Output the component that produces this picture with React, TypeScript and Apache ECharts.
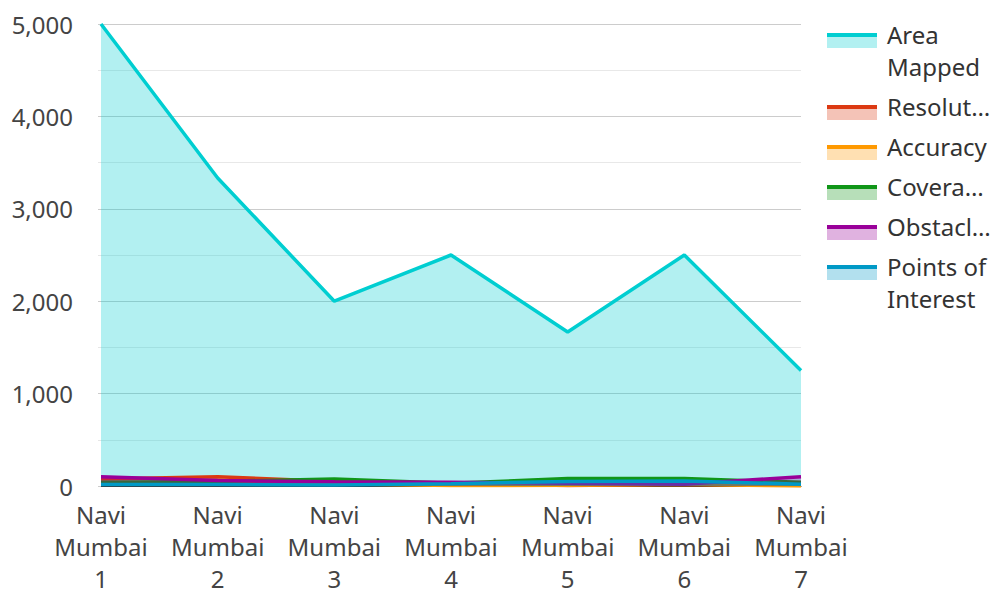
import React, { useEffect, useRef } from "react";
import * as echarts from "echarts";

const categories = ["Navi Mumbai 1", "Navi Mumbai 2", "Navi Mumbai 3", "Navi Mumbai 4", "Navi Mumbai 5", "Navi Mumbai 6", "Navi Mumbai 7"];
const seriesNames = ["Area Mapped", "Resolution", "Accuracy", "Coverage", "Obstacles", "Points of Interest"];
const legendLabels = ["Area\nMapped", "Resolution", "Accuracy", "Coverage", "Obstacles", "Points of\nInterest"];
const colors = ["#00ced1", "#dc3912", "#ff9900", "#109618", "#990099", "#0099c6"];
const areaMapped = [5000, 3333, 2000, 2500, 1667, 2500, 1250];
const resolution = [75, 100, 50, 30, 5, 20, 10];
const accuracy = [20, 30, 25, 5, 8, 20, 0];
const coverage = [40, 50, 75, 30, 80, 80, 40];
const obstacles = [100, 60, 45, 40, 30, 20, 100];
const pointsOfInterest = [15, 15, 12, 25, 50, 55, 20];
const yTicks = [0, 1000, 2000, 3000, 4000, 5000];

const allData = [areaMapped, resolution, accuracy, coverage, obstacles, pointsOfInterest];

const FONT = "Noto Sans";
const LEGEND_TEXT_WIDTHS = [108, 108, 108, 102, 108, 108];

export default function App() {
  const ref = useRef<HTMLDivElement>(null);
  useEffect(() => {
    if (!ref.current) return;
    document.body.style.margin = "0";
    const chart = echarts.init(ref.current, null, { renderer: "svg" });
    const graphics: any[] = [];
    let y = 33;
    legendLabels.forEach((lab, i) => {
      graphics.push({
        type: "rect",
        shape: { x: 827, y: y + 4, width: 50, height: 11 },
        style: { fill: colors[i], opacity: 0.3 },
        silent: true,
      });
      graphics.push({
        type: "rect",
        shape: { x: 827, y: y, width: 50, height: 4 },
        style: { fill: colors[i] },
        silent: true,
      });
      graphics.push({
        type: "text",
        x: 887,
        y: y - 15,
        style: {
          text: lab,
          font: `24px "${FONT}"`,
          fill: "#333333",
          width: LEGEND_TEXT_WIDTHS[i],
          overflow: "truncate",
          ellipsis: "…",
          lineHeight: 32,
          verticalAlign: "top",
        },
        silent: true,
      });
      const lines = lab.split("\n").length;
      y += 40 + (lines - 1) * 32;
    });

    chart.setOption({
      animation: false,
      textStyle: { fontFamily: FONT },
      grid: { left: 101, right: 193, top: 24, bottom: 104, containLabel: false },
      xAxis: {
        type: "category",
        data: categories,
        boundaryGap: false,
        axisLine: { show: true, lineStyle: { color: "#333333" } },
        axisTick: { show: false },
        axisLabel: {
          formatter: (v: string) => v.split(" ").join("\n"),
          fontSize: 24,
          lineHeight: 32,
          color: "#444444",
          margin: 12,
          interval: 0,
        },
        splitLine: { show: false },
      },
      yAxis: {
        type: "value",
        min: yTicks[0],
        max: yTicks[yTicks.length - 1],
        interval: 1000,
        axisLine: { show: false },
        axisTick: { show: true, length: 3, lineStyle: { color: "#cccccc" } },
        minorTick: { show: true, splitNumber: 2, length: 3, lineStyle: { color: "#e6e6e6" } },
        axisLabel: {
          fontSize: 24,
          color: "#444444",
          margin: 28,
          formatter: (v: number) => v.toLocaleString("en-US"),
        },
        splitLine: { show: true, lineStyle: { color: "#cccccc", width: 1 } },
        minorSplitLine: { show: true, lineStyle: { color: "#e8e8e8", width: 1 } },
      },
      series: seriesNames.map((name, i) => ({
        name,
        type: "line",
        data: allData[i],
        symbol: "none",
        lineStyle: { color: colors[i], width: 3.5 },
        itemStyle: { color: colors[i] },
        areaStyle: { color: colors[i], opacity: 0.3 },
        z: 2 + i,
      })),
      graphic: graphics,
    });
    return () => chart.dispose();
  }, []);
  return <div ref={ref} style={{ width: 994, height: 594 }} />;
}
